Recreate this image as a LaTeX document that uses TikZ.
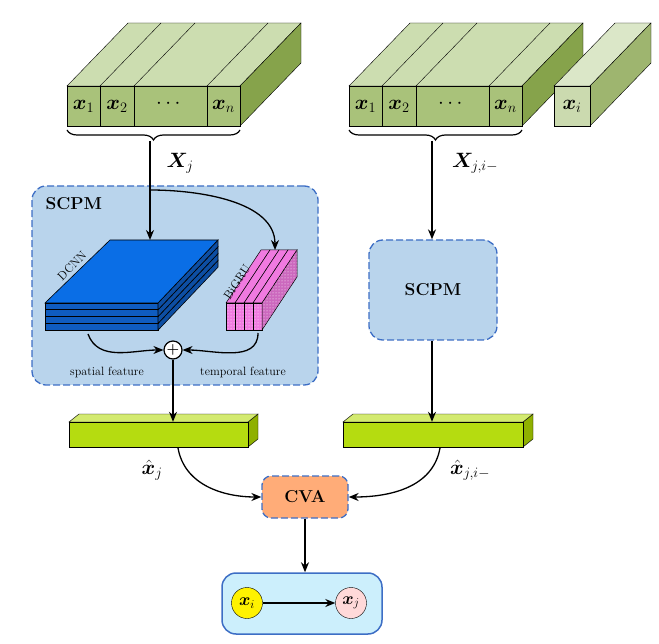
\documentclass[tikz,border=0pt]{standalone}
\usepackage{amsmath,bm}
\usetikzlibrary{arrows.meta,decorations.pathreplacing,patterns}
\definecolor{gfront}{HTML}{A9C27A}
\definecolor{gtop}{HTML}{CCDDB0}
\definecolor{gside}{HTML}{86A34B}
\definecolor{boxblue}{HTML}{B9D4EC}
\definecolor{dash}{HTML}{3D6EC5}
\definecolor{lime}{HTML}{B5DC10}
\definecolor{limes}{HTML}{8FB000}
\definecolor{dtopc}{HTML}{0A6EE6}
\definecolor{dlay}{HTML}{0F5CC0}
\definecolor{pinkc}{HTML}{F07AE0}
\tikzset{
 arr/.style={-{Stealth[length=10pt,width=8pt]},line width=1.3pt},
 dsh/.style={draw=dash,dash pattern=on 7pt off 3pt,line width=1.3pt},
 mod/.style={dsh,rounded corners=14pt,fill=boxblue},
 lbl/.style={font=\LARGE\bfseries},
 mx/.style={font=\huge}
}
\begin{document}
\begin{tikzpicture}[x=1pt,y=-1pt]
\useasboundingbox (0,0) rectangle (659,644);
% ---- left block
\def\dx{61}\def\dy{-63}
\fill[gtop,draw=black] (67,86)--(67+\dx,86+\dy)--(240+\dx,86+\dy)--(240,86)--cycle;
\fill[gside,draw=black] (240,86)--(240+\dx,86+\dy)--(240+\dx,126+\dy)--(240,126)--cycle;
\foreach \x in {100,134,207} \draw (\x,86)--(\x+\dx,86+\dy);
\fill[gfront,draw=black] (67,86) rectangle (240,126);
\foreach \x in {100,134,207} \draw (\x,86)--(\x,126);
\node[mx] (l1) at (83.5,106) {$\bm{x}_1$};
\node[mx] (l2) at (117,106) {$\bm{x}_2$};
\node[mx] (ld) at (170,104) {$\cdots$};
\node[mx] (ln) at (223.5,106) {$\bm{x}_n$};
\draw[line width=1.2pt,decorate,decoration={brace,mirror,amplitude=10pt}] (67,130)--(240,130);
\coordinate (lb) at (150,141);
\node[mx] (Xj) at (180,163) {$\bm{X}_j$};
% ---- right block
\fill[gtop,draw=black] (349,86)--(349+\dx,86+\dy)--(522+\dx,86+\dy)--(522,86)--cycle;
\fill[gside,draw=black] (522,86)--(522+\dx,86+\dy)--(522+\dx,126+\dy)--(522,126)--cycle;
\foreach \x in {382,416,489} \draw (\x,86)--(\x+\dx,86+\dy);
\fill[gfront,draw=black] (349,86) rectangle (522,126);
\foreach \x in {382,416,489} \draw (\x,86)--(\x,126);
\node[mx] (r1) at (365.5,106) {$\bm{x}_1$};
\node[mx] (r2) at (399,106) {$\bm{x}_2$};
\node[mx] (rd) at (452,104) {$\cdots$};
\node[mx] (rn) at (505.5,106) {$\bm{x}_n$};
\fill[gtop!70!white,draw=black] (554,86)--(554+\dx,86+\dy)--(590+\dx,86+\dy)--(590,86)--cycle;
\fill[gside!80!white,draw=black] (590,86)--(590+\dx,86+\dy)--(590+\dx,126+\dy)--(590,126)--cycle;
\fill[gfront!60!white,draw=black] (554,86) rectangle (590,126);
\node[mx] (xi) at (572,106) {$\bm{x}_i$};
\draw[line width=1.2pt,decorate,decoration={brace,mirror,amplitude=10pt}] (349,130)--(522,130);
\coordinate (rb) at (432,141);
\node[mx] (Xji) at (475,163) {$\bm{X}_{j,i-}$};
% ---- left SCPM
\node[mod,minimum width=286pt,minimum height=199pt] (S1) at (175,285.5) {};
\node[lbl,anchor=west] (S1l) at (42,204) {SCPM};
% DCNN
\foreach \k in {3,2,1,0}{
 \pgfmathsetmacro\yy{303+6.8*\k}
 \fill[dlay,draw=black,line width=0.6pt] (45,\yy) rectangle (158,\yy+6.8);
 \fill[dlay!85!black,draw=black,line width=0.6pt] (158,\yy)--(218,\yy-63)--(218,\yy-56.2)--(158,\yy+6.8)--cycle;
}
\fill[dtopc,draw=black,line width=0.6pt] (45,303)--(110,240)--(218,240)--(158,303)--cycle;
\node[rotate=45,font=\large] (dcnn) at (72,266) {DCNN};
\coordinate (dtop) at (150,240);
% BiGRU
\foreach \k in {0,1,2,3}{
 \pgfmathsetmacro\xx{226+9*\k}
 \fill[pinkc,draw=black,line width=0.5pt] (\xx,303)--(\xx+35,250)--(\xx+44,250)--(\xx+9,303)--cycle;
 \fill[pinkc,draw=black,line width=0.5pt] (\xx,303) rectangle (\xx+9,330);
 \fill[pattern=dots,pattern color=white] (\xx,303) rectangle (\xx+9,330);
}
\fill[pinkc!85!black,draw=black,line width=0.5pt] (262,303)--(297,250)--(297,277)--(262,330)--cycle;
\fill[pattern=dots,pattern color=white] (262,303)--(297,250)--(297,277)--(262,330)--cycle;
\node[rotate=56,font=\large] (bigru) at (237,282) {BiGRU};
\coordinate (btop) at (275,250);
\node[circle,draw,fill=white,line width=1.2pt,inner sep=0pt,minimum size=18pt,font=\Large\bfseries] (plus) at (173,350) {$\bm{+}$};
\coordinate (dbot) at (88,334);
\coordinate (bbot) at (258,333);
\node[font=\large] (sp) at (107,372) {spatial feature};
\node[font=\large] (tp) at (243,372) {temporal feature};
% ---- right SCPM
\node[mod,minimum width=128pt,minimum height=100pt,font=\LARGE\bfseries] (S2) at (433,290) {SCPM};
% ---- bars
\fill[limes,draw=black] (248,422)--(258,414)--(258,439)--(248,447)--cycle;
\fill[lime!60!white,draw=black] (69,422)--(79,414)--(258,414)--(248,422)--cycle;
\node[draw,fill=lime,minimum width=179pt,minimum height=25pt,inner sep=0] (B1) at (158.5,434.5) {};
\fill[limes,draw=black] (523,422)--(533,414)--(533,439)--(523,447)--cycle;
\fill[lime!60!white,draw=black] (343,422)--(353,414)--(533,414)--(523,422)--cycle;
\node[draw,fill=lime,minimum width=180pt,minimum height=25pt,inner sep=0] (B2) at (433,434.5) {};
\node[mx] (h1) at (152,470) {$\hat{\bm{x}}_j$};
\node[mx] (h2) at (470,470) {$\hat{\bm{x}}_{j,i-}$};
% ---- CVA
\node[dsh,rounded corners=9pt,fill=orange!45!pink!90!white,minimum width=86pt,minimum height=42pt,font=\LARGE\bfseries] (CVA) at (305,497) {CVA};
% ---- bottom
\node[draw=dash,line width=1.5pt,rounded corners=14pt,fill=cyan!20,minimum width=160pt,minimum height=61pt] (G) at (302,603.5) {};
\node[circle,draw,fill=yellow,minimum size=31pt,inner sep=0] (ci) at (247,603) {\LARGE$\bm{x}_i$};
\node[circle,draw,fill=red!15,minimum size=31pt,inner sep=0] (cj) at (351,603) {\LARGE$\bm{x}_j$};
% ---- arrows
\draw[arr] (lb)--(dtop);
\draw[arr] (150,190) to[out=0,in=90,looseness=0.9] (btop);
\draw[arr] (dbot) to[out=-70,in=180] (plus.west);
\draw[arr] (bbot) to[out=-90,in=0] (plus.east);
\draw[arr] (plus.south)--(B1.north -| plus);
\draw[arr] (rb)--(S2.north -| rb);
\draw[arr] (S2.south -| rb)--(B2.north -| rb);
\draw[arr] (178,448) to[out=-80,in=180] (CVA.west);
\draw[arr] (440,448) to[out=-100,in=0] (CVA.east);
\draw[arr] (CVA.south)--(G.north -| CVA);
\draw[arr] (ci)--(cj);
\end{tikzpicture}
\end{document}
